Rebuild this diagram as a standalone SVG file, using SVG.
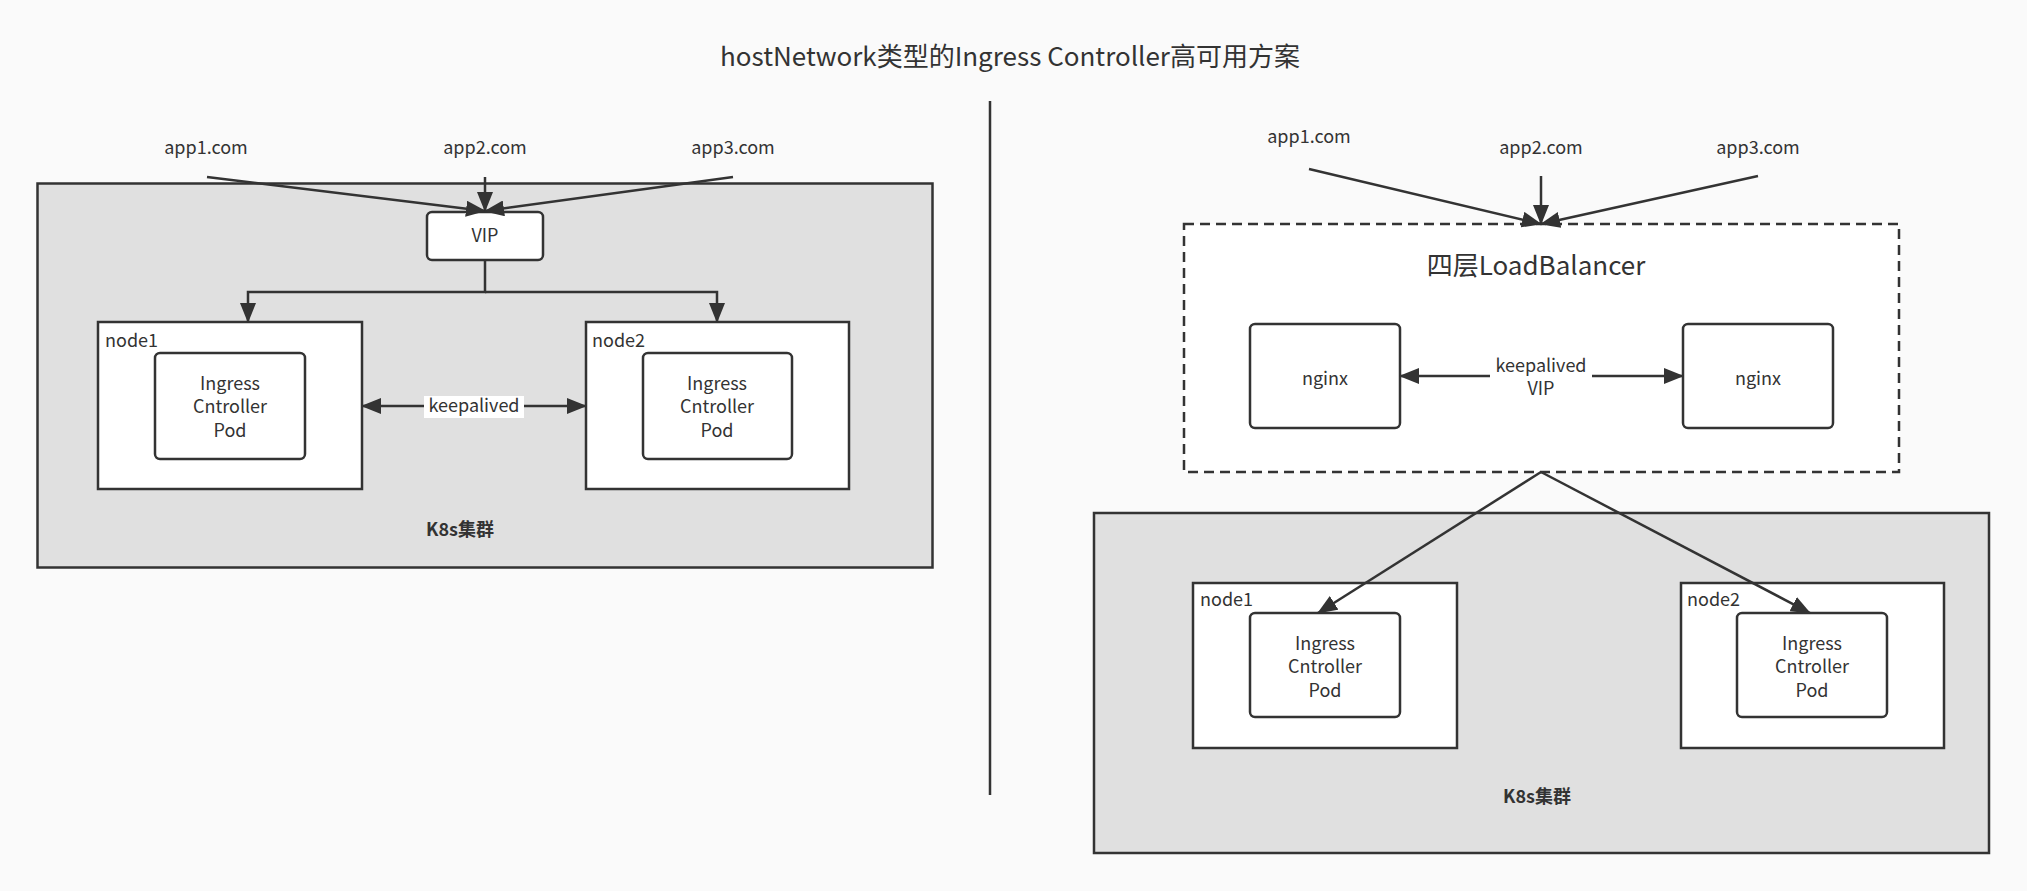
<svg xmlns="http://www.w3.org/2000/svg" width="2027" height="891" viewBox="0 0 2027 891">
<style>
text{font-family:"Noto Sans CJK SC","Noto Sans",sans-serif;fill:#333;text-anchor:middle;dominant-baseline:middle}
.t{font-size:18px}
.k8s{fill:#e0e0e0;stroke:#333;stroke-width:2.5}
.box{fill:#fff;stroke:#333;stroke-width:2.5}
.c{fill:none;stroke:#333;stroke-width:2.5}
.b{font-weight:bold;font-size:18px}
</style>
<defs>
<marker id="a" viewBox="0 0 10 10" refX="9" refY="5" markerWidth="7" markerHeight="7" markerUnits="userSpaceOnUse" orient="auto-start-reverse" style="overflow:visible">
<path d="M0,0 L10,5 L0,10 z" fill="#333" transform="scale(1.9) translate(-4.7,-2.6)"/>
</marker>
<marker id="m" viewBox="0 0 20 16" refX="19" refY="8" markerWidth="20" markerHeight="16" markerUnits="userSpaceOnUse" orient="auto-start-reverse">
<path d="M0,0 L20,8 L0,16 z" fill="#333"/>
</marker>
</defs>
<rect width="2027" height="891" fill="#fafafa"/>
<text x="1010" y="59" style="font-size:26px">hostNetwork类型的Ingress Controller高可用方案</text>
<line x1="990" y1="101" x2="990" y2="795" stroke="#333" stroke-width="2.5"/>

<g id="k8s-left"><rect class="k8s" x="37.5" y="183.5" width="895" height="384"/><text class="b" x="460" y="531">K8s集群</text></g>
<g id="vip"><rect class="box" x="427" y="212" width="116" height="48" rx="5"/><text class="t" x="485" y="237">VIP</text></g>
<g id="node1-l"><rect class="box" x="98" y="322" width="264" height="167"/><text class="t" x="105" y="342" style="text-anchor:start">node1</text></g>
<g id="pod1-l"><rect class="box" x="155" y="353" width="150" height="106" rx="5"/><text class="t" x="230" y="385">Ingress</text><text class="t" x="230" y="408">Cntroller</text><text class="t" x="230" y="432">Pod</text></g>
<g id="node2-l"><rect class="box" x="586" y="322" width="263" height="167"/><text class="t" x="592" y="342" style="text-anchor:start">node2</text></g>
<g id="pod2-l"><rect class="box" x="643" y="353" width="149" height="106" rx="5"/><text class="t" x="717" y="385">Ingress</text><text class="t" x="717" y="408">Cntroller</text><text class="t" x="717" y="432">Pod</text></g>
<g id="apps-l"><text class="t" x="206" y="149">app1.com</text><text class="t" x="485" y="149">app2.com</text><text class="t" x="733" y="149">app3.com</text></g>

<g id="k8s-right"><rect class="k8s" x="1094" y="513" width="895" height="340"/><text class="b" x="1537" y="798">K8s集群</text></g>
<g id="lb"><rect x="1184" y="224" width="715" height="248" fill="#fff" stroke="#333" stroke-width="2.5" stroke-dasharray="10,6"/><text x="1536" y="268" style="font-size:26px">四层LoadBalancer</text></g>
<g id="nginx1"><rect class="box" x="1250" y="324" width="150" height="104" rx="5"/><text class="t" x="1325" y="380">nginx</text></g>
<g id="nginx2"><rect class="box" x="1683" y="324" width="150" height="104" rx="5"/><text class="t" x="1758" y="380">nginx</text></g>
<g id="node1-r"><rect class="box" x="1193" y="583" width="264" height="165"/><text class="t" x="1200" y="601" style="text-anchor:start">node1</text></g>
<g id="pod1-r"><rect class="box" x="1250" y="613" width="150" height="104" rx="5"/><text class="t" x="1325" y="645">Ingress</text><text class="t" x="1325" y="668">Cntroller</text><text class="t" x="1325" y="692">Pod</text></g>
<g id="node2-r"><rect class="box" x="1681" y="583" width="263" height="165"/><text class="t" x="1687" y="601" style="text-anchor:start">node2</text></g>
<g id="pod2-r"><rect class="box" x="1737" y="613" width="150" height="104" rx="5"/><text class="t" x="1812" y="645">Ingress</text><text class="t" x="1812" y="668">Cntroller</text><text class="t" x="1812" y="692">Pod</text></g>
<g id="apps-r"><text class="t" x="1309" y="138">app1.com</text><text class="t" x="1541" y="149">app2.com</text><text class="t" x="1758" y="149">app3.com</text></g>

<g id="connectors">
<line class="c" x1="207" y1="177" x2="485" y2="211" marker-end="url(#m)"/>
<line class="c" x1="485" y1="177" x2="485" y2="211" marker-end="url(#m)"/>
<line class="c" x1="733" y1="177" x2="485" y2="211" marker-end="url(#m)"/>
<path class="c" d="M485,260 V292 H248 V322" marker-end="url(#m)"/>
<path class="c" d="M485,292 H717 V322" marker-end="url(#m)"/>
<line class="c" x1="362" y1="406" x2="586" y2="406" marker-start="url(#m)" marker-end="url(#m)"/>
<rect x="424" y="396" width="100" height="22" fill="#fff"/>
<text class="t" x="474" y="407">keepalived</text>
<line class="c" x1="1309" y1="169" x2="1541" y2="224" marker-end="url(#m)"/>
<line class="c" x1="1541" y1="176" x2="1541" y2="224" marker-end="url(#m)"/>
<line class="c" x1="1758" y1="176" x2="1541" y2="224" marker-end="url(#m)"/>
<line class="c" x1="1400" y1="376" x2="1683" y2="376" marker-start="url(#m)" marker-end="url(#m)"/>
<rect x="1490" y="354" width="102" height="46" fill="#fff"/>
<text class="t" x="1541" y="367">keepalived</text>
<text class="t" x="1541" y="390">VIP</text>
<line class="c" x1="1541" y1="472" x2="1318" y2="613" marker-end="url(#m)"/>
<line class="c" x1="1541" y1="472" x2="1810" y2="613" marker-end="url(#m)"/>
</g>
</svg>
